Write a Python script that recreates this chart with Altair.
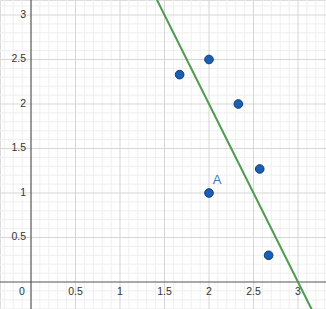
import altair as alt
import pandas as pd
import numpy as np

# data
pt_x = [1.67, 2.0, 2.33, 2.57, 2.67, 2.0]
pt_y = [2.33, 2.5, 2.0, 1.27, 0.3, 1.0]
pt_label = ["", "", "", "", "", "A"]
line_x = [1.0, 4.0]
line_y = [4.0, -2.0]
x_ticks = [0.5, 1, 1.5, 2, 2.5, 3]
x_tick_labels = ["0.5", "1", "1.5", "2", "2.5", "3"]
y_ticks = [0.5, 1, 1.5, 2, 2.5, 3]
y_tick_labels = ["0.5", "1", "1.5", "2", "2.5", "3"]

XD = [-0.3483, 3.3146]
YD = [-0.3034, 3.1685]
xs = alt.Scale(domain=XD, nice=False, zero=False)
ys = alt.Scale(domain=YD, nice=False, zero=False)

minor = [round(v, 1) for v in np.arange(-0.3, 3.35, 0.1)]
minor_x = [v for v in minor if abs(v * 2 - round(v * 2)) > 1e-6 and XD[0] <= v <= XD[1]]
major_x = [v for v in [-0.5 + 0.5 * i for i in range(9)] if XD[0] <= v <= XD[1] and v != 0]
minor_y = [v for v in minor if abs(v * 2 - round(v * 2)) > 1e-6 and YD[0] <= v <= YD[1]]
major_y = [v for v in [-0.5 + 0.5 * i for i in range(9)] if YD[0] <= v <= YD[1] and v != 0]

def vrules(vals, color, w=1):
    return alt.Chart(pd.DataFrame({"x": vals})).mark_rule(color=color, strokeWidth=w).encode(
        x=alt.X("x:Q", scale=xs, axis=None))

def hrules(vals, color, w=1):
    return alt.Chart(pd.DataFrame({"y": vals})).mark_rule(color=color, strokeWidth=w).encode(
        y=alt.Y("y:Q", scale=ys, axis=None))

grid = (vrules(minor_x, "#efefef") + hrules(minor_y, "#efefef") +
        vrules(major_x, "#d6d6d6") + hrules(major_y, "#d6d6d6"))
axes = vrules([0], "#555555", 1.2) + hrules([0], "#555555", 1.2)

xlab = alt.Chart(pd.DataFrame({"x": x_ticks, "y": [0] * len(x_ticks), "t": x_tick_labels})).mark_text(
    fontSize=10.5, font="Liberation Sans", color="#333333", dy=10).encode(
    x=alt.X("x:Q", scale=xs, axis=None), y=alt.Y("y:Q", scale=ys, axis=None), text="t:N")
ylab = alt.Chart(pd.DataFrame({"x": [0] * len(y_ticks), "y": y_ticks, "t": y_tick_labels})).mark_text(
    fontSize=10.5, font="Liberation Sans", color="#333333", align="right", dx=-5).encode(
    x=alt.X("x:Q", scale=xs, axis=None), y=alt.Y("y:Q", scale=ys, axis=None), text="t:N")
zlab = alt.Chart(pd.DataFrame({"x": [0], "y": [0], "t": ["0"]})).mark_text(
    fontSize=10.5, font="Liberation Sans", color="#333333", dx=-9, dy=10).encode(
    x=alt.X("x:Q", scale=xs, axis=None), y=alt.Y("y:Q", scale=ys, axis=None), text="t:N")

line = alt.Chart(pd.DataFrame({"x": line_x, "y": line_y})).mark_line(
    color="#4f9a4f", strokeWidth=2, clip=True).encode(
    x=alt.X("x:Q", scale=xs, axis=None), y=alt.Y("y:Q", scale=ys, axis=None))

pdf = pd.DataFrame({"x": pt_x, "y": pt_y, "t": pt_label})
points = alt.Chart(pdf).mark_point(filled=True, size=75, color="#1a5fb4", opacity=1,
                                   stroke="#0f3d78", strokeWidth=1).encode(
    x=alt.X("x:Q", scale=xs, axis=None), y=alt.Y("y:Q", scale=ys, axis=None))
labels = alt.Chart(pdf).mark_text(fontSize=13, font="Liberation Sans", color="#3f78c0",
                                  dx=8, dy=-13).encode(
    x=alt.X("x:Q", scale=xs, axis=None), y=alt.Y("y:Q", scale=ys, axis=None), text="t:N")

chart = (grid + axes + xlab + ylab + zlab + line + points + labels).properties(
    width=326, height=309, padding=0, autosize=alt.AutoSizeParams(type="none")
).configure_view(stroke=None).configure(background="white")

chart.save("out.html", embed_options={"renderer": "svg", "actions": False})
